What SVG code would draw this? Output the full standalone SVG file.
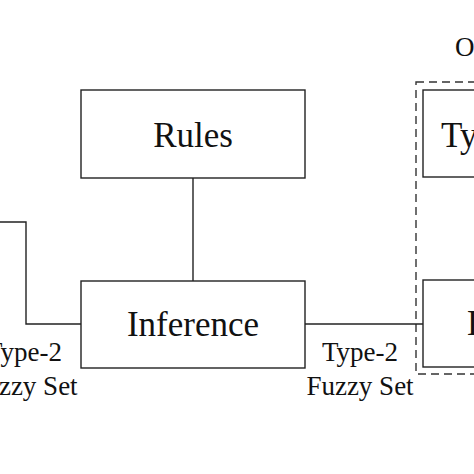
<svg xmlns="http://www.w3.org/2000/svg" width="474" height="474" viewBox="0 0 474 474">
<style>
.box{fill:#fff;stroke:#222;stroke-width:1.4}
.ln{fill:none;stroke:#222;stroke-width:1.4}
.dash{fill:none;stroke:#333;stroke-width:1.4;stroke-dasharray:8 5}
.big{font-family:"Liberation Serif","Times New Roman",serif;font-size:35px;fill:#111}
.lbl{font-family:"Liberation Serif","Times New Roman",serif;font-size:27px;fill:#111;text-anchor:middle}
</style>
<rect width="474" height="474" fill="#fff"/>
<g id="output-processing">
<rect class="dash" x="416" y="82" width="80" height="292"/>
<text class="lbl" x="455" y="56" style="text-anchor:start">Output Processing</text>
</g>
<g id="connectors">
<polyline class="ln" points="0,222 26,222 26,324 81,324"/>
<line class="ln" x1="193" y1="178" x2="193" y2="281"/>
<line class="ln" x1="305" y1="324" x2="423" y2="324"/>
</g>
<g id="rules">
<rect class="box" x="81" y="90" width="224" height="88"/>
<text class="big" x="193" y="147" text-anchor="middle">Rules</text>
</g>
<g id="inference">
<rect class="box" x="81" y="281" width="224" height="87"/>
<text class="big" x="193" y="336" text-anchor="middle">Inference</text>
</g>
<g id="type-reducer">
<rect class="box" x="423" y="90" width="70" height="87"/>
<text class="big" x="441" y="147">Type-Reducer</text>
</g>
<g id="defuzzifier">
<rect class="box" x="423" y="280" width="70" height="87"/>
<text class="big" x="467" y="335">Defuzzifier</text>
</g>
<g id="labels">
<text class="lbl" x="24" y="361">Type-2</text>
<text class="lbl" x="24" y="395">Fuzzy Set</text>
<text class="lbl" x="360" y="361">Type-2</text>
<text class="lbl" x="360" y="395">Fuzzy Set</text>
</g>
</svg>
